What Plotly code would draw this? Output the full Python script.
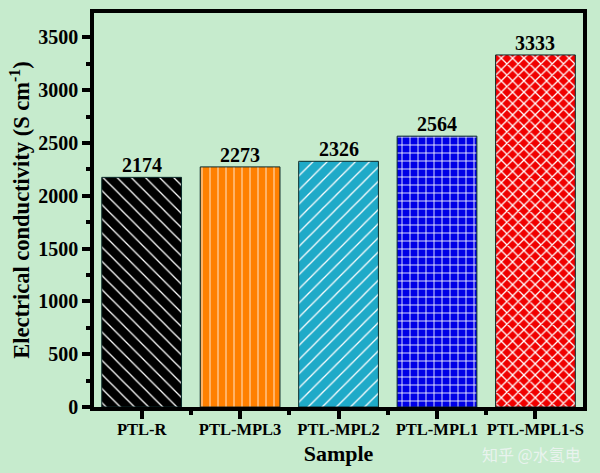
import plotly.graph_objects as go

categories = ["PTL-R", "PTL-MPL3", "PTL-MPL2", "PTL-MPL1", "PTL-MPL1-S"]
values = [2174, 2273, 2326, 2564, 3333]
colors = ["#000000", "#FF8000", "#1FAAC8", "#0000E6", "#F00000"]
patterns = ["\\", "|", "/", "+", "x"]
pattern_sizes = [10, 8, 10, 8, 8]
pattern_solidity = [0.13, 0.1, 0.13, 0.2, 0.3]
x_minor = [0.5, 1.5, 2.5, 3.5]

BG = "#C6EBCD"
FONT = "Liberation Serif"

fig = go.Figure()
for c, v, col, shp, sz, sol in zip(categories, values, colors, patterns, pattern_sizes, pattern_solidity):
    fig.add_trace(go.Bar(
        x=[c], y=[v], width=0.81, name=c,
        marker=dict(
            color=col,
            line=dict(color="#0a2a2a", width=1),
            pattern=dict(shape=shp, fgcolor="#FFFFFF", fgopacity=1, bgcolor=col,
                         size=sz, solidity=sol, fillmode="overlay"),
        ),
    ))

axis_common = dict(
    showline=True, linecolor="#000000", linewidth=3.5, mirror=True, automargin=False,
    ticks="outside", tickcolor="#000000", tickwidth=3.5, showgrid=False, zeroline=False,
)
value_labels = [dict(
    x=c, y=v, text=f"<b>{v}</b>", showarrow=False, yanchor="bottom", yshift=-1,
    font=dict(family=FONT, size=20, color="#000000"),
) for c, v in zip(categories, values)]

fig.update_layout(
    width=600, height=473, autosize=False, showlegend=False, barmode="overlay",
    paper_bgcolor=BG, plot_bgcolor=BG,
    margin=dict(l=94, r=17, t=13, b=65.5),
    font=dict(family=FONT, color="#000000"),
    xaxis=dict(
        **axis_common, type="category", categoryorder="array", categoryarray=categories,
        range=[-0.484, 4.483], ticklen=8, ticklabelstandoff=-4,
        tickfont=dict(family=FONT, size=16.5, weight="bold", color="#000000"),
        title=dict(text="<b>Sample</b>", font=dict(family=FONT, size=22, color="#000000"), standoff=9),
        minor=dict(ticks="outside", tickmode="array", tickvals=x_minor, ticklen=4,
                   tickwidth=3.5, tickcolor="#000000", showgrid=False),
    ),
    yaxis=dict(
        **axis_common, range=[0, 3730], dtick=500, ticklen=8,
        tickfont=dict(family=FONT, size=20, weight="bold", color="#000000"),
        title=dict(text="<b>Electrical conductivity (S cm<sup>-1</sup>)</b>",
                   font=dict(family=FONT, size=22.5, color="#000000"), standoff=3),
        minor=dict(ticks="outside", dtick=250, ticklen=4, tickwidth=3.5,
                   tickcolor="#000000", showgrid=False),
    ),
    annotations=value_labels + [dict(
        text="知乎 @水氢电", xref="paper", yref="paper", x=1.0, y=-0.085,
        xanchor="right", yanchor="top", showarrow=False,
        font=dict(family="Noto Sans CJK SC", size=16, color="rgba(240,245,245,0.85)"),
    )],
)
fig.write_html("out.html", config={"displayModeBar": False},
               post_script="document.body.style.margin='0';document.documentElement.style.background='#C6EBCD';")
